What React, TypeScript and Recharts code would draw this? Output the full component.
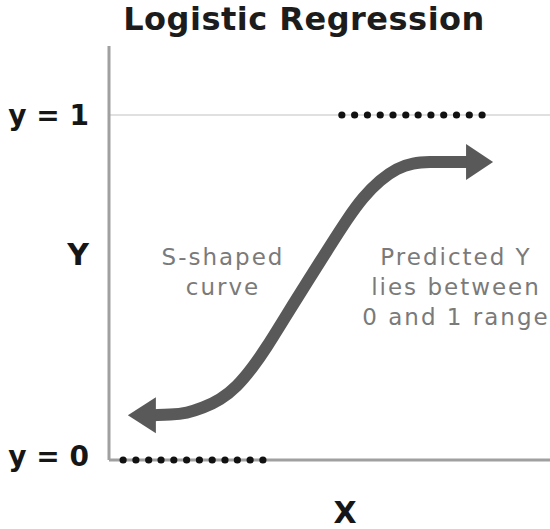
import { ComposedChart, Line, Scatter, XAxis, YAxis, ReferenceLine } from 'recharts';

// S-curve centre line (x: 0-100 across the plot, y: 0-1 probability)
const curveX = [10.4, 13.8, 17.7, 21.3, 25.2, 29.0, 32.7, 35.8, 38.8, 41.7, 44.9, 50.1, 54.0, 57.6, 61.5, 65.3, 68.9, 72.8, 76.6, 81.2];
const curveY = [0.13, 0.131, 0.136, 0.151, 0.174, 0.212, 0.27, 0.328, 0.39, 0.45, 0.515, 0.62, 0.698, 0.762, 0.812, 0.846, 0.861, 0.864, 0.864, 0.864];

// dotted runs sitting on y = 0 and y = 1
const lowDotsX = [3.2, 6.1, 9.0, 11.8, 14.7, 17.6, 20.5, 23.4, 26.3, 29.1, 32.0, 34.9];
const highDotsX = [52.8, 55.7, 58.6, 61.5, 64.4, 67.3, 70.1, 73.0, 75.9, 78.8, 81.7, 84.6];

const yTicks = [0, 1];
const title = 'Logistic Regression';
const leftNote = ['S-shaped', 'curve'];
const rightNote = ['Predicted Y', 'lies between', '0 and 1 range'];

const curveData = curveX.map((x, i) => ({ x, y: curveY[i] }));
const lowDots = lowDotsX.map((x) => ({ x, y: 0 }));
const highDots = highDotsX.map((x) => ({ x, y: 1 }));

const FONT = '"DejaVu Sans", sans-serif';
const ARROW = '#595959';

function ArrowDot(props: any) {
  const { cx, cy, index } = props;
  if (index === 0) {
    return <polygon key="arrow-start" points={`${cx + 1},${cy - 18} ${cx + 1},${cy + 18} ${cx - 27},${cy}`} fill={ARROW} />;
  }
  if (index === curveData.length - 1) {
    return <polygon key="arrow-end" points={`${cx - 1},${cy - 18} ${cx - 1},${cy + 18} ${cx + 26},${cy}`} fill={ARROW} />;
  }
  return <g key={`pt-${index}`} />;
}

function DotShape(props: any) {
  return <circle cx={props.cx} cy={props.cy} r={3.6} fill="#111" />;
}

function YTick(props: any) {
  const { x, y, payload } = props;
  return (
    <text x={x} y={payload.value === 0 ? y - 4 : y} dy="0.355em" textAnchor="end" fontFamily={FONT} fontSize={28} fontWeight="bold" fill="#161616">
      {`y = ${payload.value}`}
    </text>
  );
}

const textBox = (cx: number, top: number, w: number): React.CSSProperties => ({
  position: 'absolute',
  left: cx - w / 2,
  top,
  width: w,
  textAlign: 'center',
  fontFamily: FONT,
  whiteSpace: 'nowrap',
});

export default function App() {
  return (
    <div style={{ position: 'absolute', left: 0, top: 0, width: 550, height: 529, background: '#fff' }}>
      <ComposedChart width={550} height={529} margin={{ top: 46, right: 0, bottom: 0, left: 0 }}>
        <XAxis type="number" dataKey="x" domain={[0, 100]} tick={false} tickLine={false} height={69} axisLine={{ stroke: '#a0a0a0', strokeWidth: 3 }} />
        <YAxis type="number" dataKey="y" domain={[0, 1.2]} ticks={yTicks} width={109} tick={<YTick />} tickLine={false} tickSize={0} tickMargin={20} axisLine={{ stroke: '#a0a0a0', strokeWidth: 3 }} />
        <ReferenceLine y={1} stroke="#e0e0e0" strokeWidth={2} />
        <Line data={curveData} dataKey="y" type="basis" stroke={ARROW} strokeWidth={12} dot={ArrowDot} activeDot={false} isAnimationActive={false} />
        <Scatter data={lowDots} dataKey="y" shape={<DotShape />} isAnimationActive={false} />
        <Scatter data={highDots} dataKey="y" shape={<DotShape />} isAnimationActive={false} />
      </ComposedChart>

      <div style={{ ...textBox(304, 0, 420), fontSize: 32, lineHeight: '38px', letterSpacing: 0.5, fontWeight: 'bold', color: '#1c1c1c' }}>{title}</div>
      <div style={{ ...textBox(78, 239, 40), fontSize: 30, lineHeight: '32px', fontWeight: 'bold', color: '#161616' }}>Y</div>
      <div style={{ ...textBox(345, 497, 40), fontSize: 30, lineHeight: '32px', fontWeight: 'bold', color: '#161616' }}>X</div>
      <div style={{ ...textBox(223, 242, 180), fontSize: 23, lineHeight: '30px', letterSpacing: 2, color: '#7a7a7a' }}>
        {leftNote.map((t) => <div key={t}>{t}</div>)}
      </div>
      <div style={{ ...textBox(456, 242, 200), fontSize: 23, lineHeight: '30px', letterSpacing: 2, color: '#7a7a7a' }}>
        {rightNote.map((t) => <div key={t}>{t}</div>)}
      </div>
    </div>
  );
}
